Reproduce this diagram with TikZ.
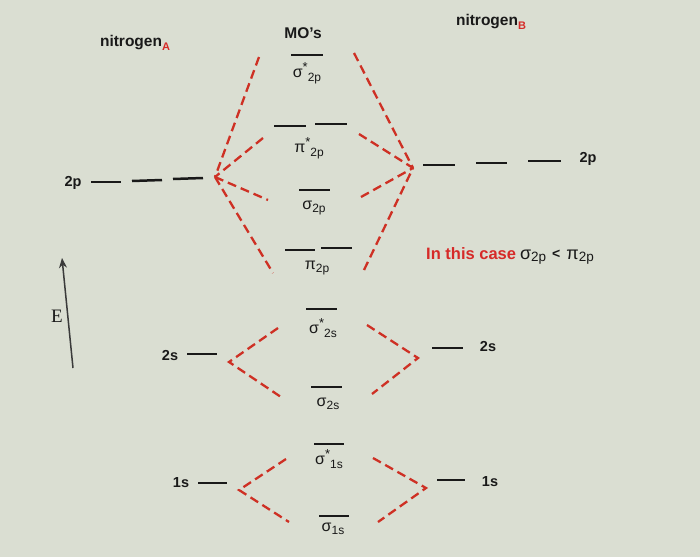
\documentclass[tikz,border=0pt]{standalone}
\usepackage{fontspec}
\setmainfont{Liberation Sans}
\newfontfamily\serifE{Liberation Serif}
\usetikzlibrary{arrows.meta}
\definecolor{bg}{RGB}{218,222,210}
\definecolor{mored}{RGB}{206,48,36}
\definecolor{txtred}{RGB}{214,42,40}
\definecolor{ink}{RGB}{25,25,25}
\newcommand\molab[3]{#1\raisebox{0.38em}{\fontsize{13}{13}\selectfont #2}\raisebox{-0.22em}{\fontsize{12}{12}\selectfont #3}}
\newcommand\notelab[2]{{\fontsize{18}{18}\selectfont #1}\raisebox{-0.2em}{\fontsize{13.5}{13.5}\selectfont #2}}
\newcommand\subred[1]{\raisebox{-0.25em}{\fontsize{11}{11}\selectfont\color{txtred}#1}}
\begin{document}
\begin{tikzpicture}[x=1pt,y=-1pt,
  lvl/.style={line width=2.5pt,ink},
  mo/.style={line width=2.3pt,mored,dash pattern=on 9pt off 5pt},
  title/.style={font=\bfseries\fontsize{15.5}{15.5}\selectfont,ink,inner sep=0pt},
  aolab/.style={font=\bfseries\fontsize{14.5}{14.5}\selectfont,ink,inner sep=0pt},
  greek/.style={font=\fontsize{16}{16}\selectfont,ink,inner sep=0pt}]
\fill[bg] (0,0) rectangle (700,557);
\useasboundingbox (0,0) rectangle (700,557);

% titles
\node[title] (tA) at (135,43) {nitrogen\subred{A}};
\node[title] (tM) at (303,33) {MO's};
\node[title] (tB) at (491,22) {nitrogen\subred{B}};

% ---- 2p region coordinates
\coordinate (a2p1l) at (91,182);  \coordinate (a2p1r) at (121,182);
\coordinate (a2p2l) at (132,181); \coordinate (a2p2r) at (162,180);
\coordinate (a2p3l) at (173,179); \coordinate (a2p3r) at (203,178);
\coordinate (b2p1l) at (423,165); \coordinate (b2p1r) at (455,165);
\coordinate (b2p2l) at (476,163); \coordinate (b2p2r) at (507,163);
\coordinate (b2p3l) at (528,161); \coordinate (b2p3r) at (561,161);
\coordinate (ss2pl) at (291,55);  \coordinate (ss2pr) at (323,55);
\coordinate (ps2p1l) at (274,126); \coordinate (ps2p1r) at (306,126);
\coordinate (ps2p2l) at (315,124); \coordinate (ps2p2r) at (347,124);
\coordinate (s2pl) at (299,190);  \coordinate (s2pr) at (330,190);
\coordinate (p2p1l) at (285,250); \coordinate (p2p1r) at (315,250);
\coordinate (p2p2l) at (321,248); \coordinate (p2p2r) at (352,248);
\coordinate (vA2p) at (215,177);
\coordinate (vB2p) at (413,168);
\coordinate (eA1) at (259,57);  \coordinate (eA2) at (263,138);
\coordinate (eA3) at (268,200); \coordinate (eA4) at (273,273);
\coordinate (eB1) at (354,53);  \coordinate (eB2) at (359,134);
\coordinate (eB3) at (361,197); \coordinate (eB4) at (364,270);

\draw[lvl] (a2p1l) -- (a2p1r);
\draw[lvl] (a2p2l) -- (a2p2r);
\draw[lvl] (a2p3l) -- (a2p3r);
\draw[lvl] (b2p1l) -- (b2p1r);
\draw[lvl] (b2p2l) -- (b2p2r);
\draw[lvl] (b2p3l) -- (b2p3r);
\draw[lvl] (ss2pl) -- (ss2pr);
\draw[lvl] (ps2p1l) -- (ps2p1r);
\draw[lvl] (ps2p2l) -- (ps2p2r);
\draw[lvl] (s2pl) -- (s2pr);
\draw[lvl] (p2p1l) -- (p2p1r);
\draw[lvl] (p2p2l) -- (p2p2r);

\draw[mo] (eA1) -- (vA2p);
\draw[mo] (eA2) -- (vA2p);
\draw[mo] (vA2p) -- (eA3);
\draw[mo] (vA2p) -- (eA4);
\draw[mo] (eB1) -- (vB2p);
\draw[mo] (eB2) -- (vB2p);
\draw[mo] (eB3) -- (vB2p);
\draw[mo] (eB4) -- (vB2p);

\node[aolab] (l2pA) at (73,183) {2p};
\node[aolab] (l2pB) at (588,159) {2p};
\node[greek] (lss2p) at (307,73) {\molab{σ}{*}{2p}};
\node[greek] (lps2p) at (309,148) {\molab{π}{*}{2p}};
\node[greek] (ls2p) at (314,208) {\molab{σ}{}{2p}};
\node[greek] (lp2p) at (317,268) {\molab{π}{}{2p}};

\node[inner sep=0pt,anchor=west] (note) at (426,256)
  {{\bfseries\fontsize{16.5}{16.5}\selectfont\color{txtred}In this case}\hspace{4pt}%
   {\color{ink}\notelab{σ}{2p}\hspace{6pt}\raisebox{0.15em}{\bfseries\fontsize{14}{14}\selectfont<}\hspace{6pt}\notelab{π}{2p}}};

% ---- E arrow
\coordinate (Ebot) at (73,368);
\coordinate (Etop) at (62,258);
\draw[line width=1.5pt,ink!85,-{Stealth[length=10pt,width=8pt]}] (Ebot) -- (Etop);
\node[inner sep=0pt,font=\serifE\fontsize{19}{19}\selectfont,ink] (Elab) at (57,316) {E};

% ---- 2s region
\coordinate (a2sl) at (187,354); \coordinate (a2sr) at (217,354);
\coordinate (b2sl) at (432,348); \coordinate (b2sr) at (463,348);
\coordinate (ss2sl) at (306,309); \coordinate (ss2sr) at (337,309);
\coordinate (s2sl) at (311,387);  \coordinate (s2sr) at (342,387);
\coordinate (vA2s) at (229,362);
\coordinate (vB2s) at (418,358);
\coordinate (fA1) at (278,328); \coordinate (fA2) at (281,397);
\coordinate (fB1) at (367,325); \coordinate (fB2) at (372,394);
\draw[lvl] (a2sl) -- (a2sr);
\draw[lvl] (b2sl) -- (b2sr);
\draw[lvl] (ss2sl) -- (ss2sr);
\draw[lvl] (s2sl) -- (s2sr);
\draw[mo] (fA1) -- (vA2s) -- (fA2);
\draw[mo] (fB1) -- (vB2s) -- (fB2);
\node[aolab] (l2sA) at (170,356) {2s};
\node[aolab] (l2sB) at (488,347) {2s};
\node[greek] (lss2s) at (323,328) {\molab{σ}{*}{2s}};
\node[greek] (ls2s) at (328,404) {\molab{σ}{}{2s}};

% ---- 1s region
\coordinate (a1sl) at (198,483); \coordinate (a1sr) at (227,483);
\coordinate (b1sl) at (437,480); \coordinate (b1sr) at (465,480);
\coordinate (ss1sl) at (314,444); \coordinate (ss1sr) at (344,444);
\coordinate (s1sl) at (319,516);  \coordinate (s1sr) at (349,516);
\coordinate (vA1s) at (239,490);
\coordinate (vB1s) at (426,488);
\coordinate (gA1) at (286,459); \coordinate (gA2) at (289,522);
\coordinate (gB1) at (373,458); \coordinate (gB2) at (378,522);
\draw[lvl] (a1sl) -- (a1sr);
\draw[lvl] (b1sl) -- (b1sr);
\draw[lvl] (ss1sl) -- (ss1sr);
\draw[lvl] (s1sl) -- (s1sr);
\draw[mo] (gA1) -- (vA1s) -- (gA2);
\draw[mo] (gB1) -- (vB1s) -- (gB2);
\node[aolab] (l1sA) at (181,483) {1s};
\node[aolab] (l1sB) at (490,482) {1s};
\node[greek] (lss1s) at (329,459) {\molab{σ}{*}{1s}};
\node[greek] (ls1s) at (333,529) {\molab{σ}{}{1s}};
\end{tikzpicture}
\end{document}
